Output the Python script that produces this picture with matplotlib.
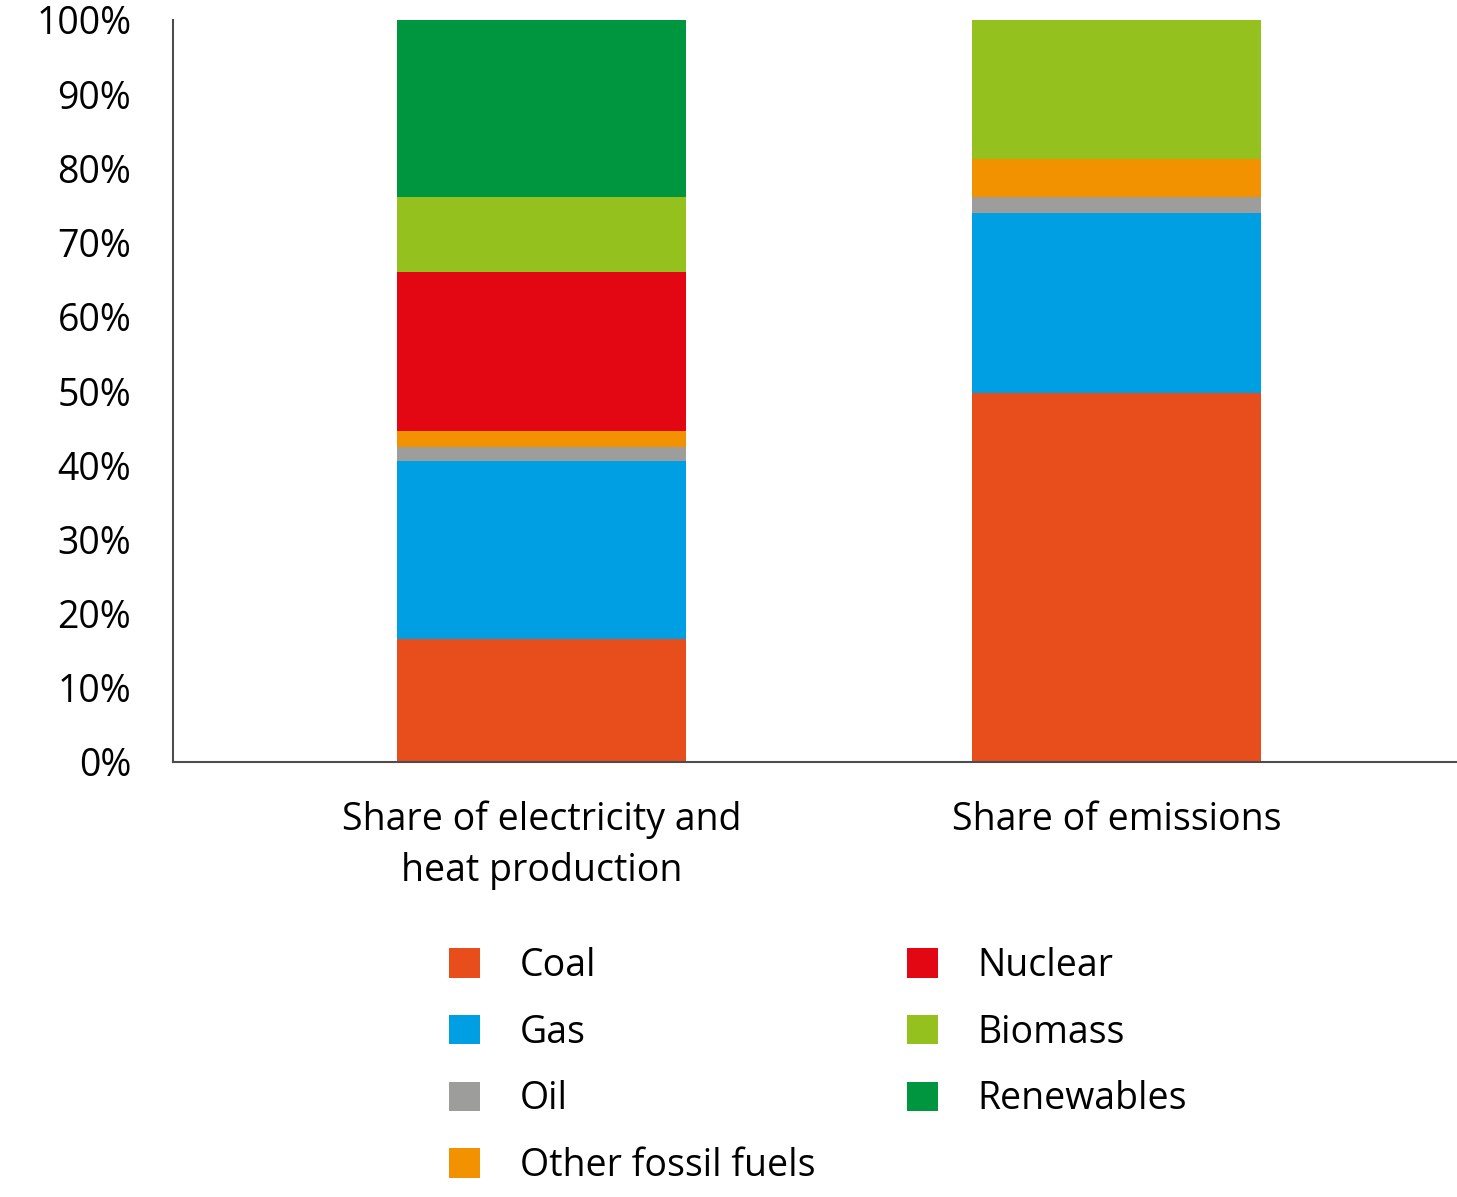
import matplotlib
matplotlib.use("Agg")
import matplotlib.pyplot as plt
import numpy as np

plt.rcParams['font.family'] = ['Open Sans', 'DejaVu Sans']

categories = ["Share of electricity and\nheat production", "Share of emissions"]
series_names = ["Coal", "Gas", "Oil", "Other fossil fuels", "Nuclear", "Biomass", "Renewables"]
coal = [16.6, 49.7]
gas = [24.0, 24.3]
oil = [1.85, 2.1]
other_fossil = [2.15, 5.1]
nuclear = [21.4, 0.0]
biomass = [10.2, 18.8]
renewables = [23.8, 0.0]
yticks = [0, 10, 20, 30, 40, 50, 60, 70, 80, 90, 100]
ytick_labels = [f"{v}%" for v in yticks]

series = [coal, gas, oil, other_fossil, nuclear, biomass, renewables]
colors = ["#E84E1B", "#009FE3", "#9D9D9C", "#F39200", "#E30613", "#95C11F", "#009640"]

W, H = 1457, 1197
fig = plt.figure(figsize=(W / 100, H / 100), dpi=100)
ax = fig.add_axes([173 / W, 1 - 762 / H, (W - 173) / W, 742 / H])

x = np.arange(len(categories))
bottom = np.zeros(len(categories))
handles = []
for name, vals, c in zip(series_names, series, colors):
    b = ax.bar(x, vals, width=0.503, bottom=bottom, color=c, label=name, linewidth=0)
    handles.append(b)
    bottom += np.array(vals)

ax.set_xlim(-0.641, 1.592)
ax.set_ylim(0, 100)
ax.set_yticks(yticks)
ax.set_yticklabels(ytick_labels)
ax.set_xticks(x)
ax.set_xticklabels(categories, linespacing=1.43)
ax.tick_params(axis='y', length=0, pad=30, labelsize=27)
ax.tick_params(axis='x', length=0, pad=28, labelsize=27)
for s in ['top', 'right']:
    ax.spines[s].set_visible(False)
for s in ['left', 'bottom']:
    ax.spines[s].set_color('#4d4d4d')
    ax.spines[s].set_linewidth(1.5)

leg = fig.legend(handles=handles, labels=series_names, ncol=2, frameon=False,
                 loc='upper left', bbox_to_anchor=(449 / W, 1 - 947 / H),
                 fontsize=27, handlelength=0.83, handleheight=0.83,
                 handletextpad=1.05, columnspacing=2.45, labelspacing=0.765,
                 borderpad=0, borderaxespad=0)

fig.savefig("out.png", dpi=100)
